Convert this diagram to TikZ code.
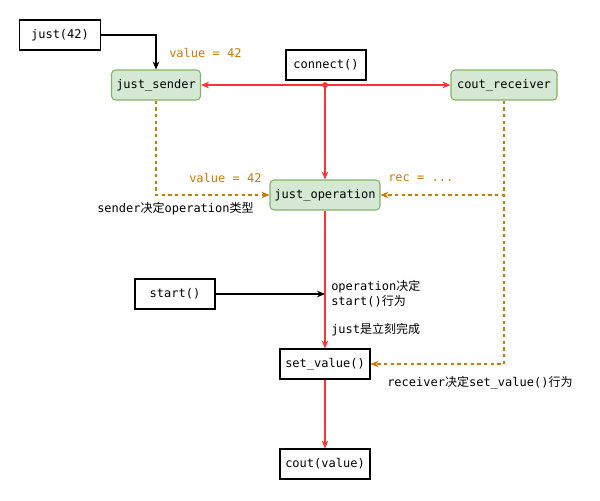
\documentclass[tikz,border=0pt]{standalone}
\usepackage{fontspec}
\setmainfont{DejaVu Sans Mono}
\newfontfamily\cjk{Noto Sans CJK SC}
\usetikzlibrary{arrows.meta}
\definecolor{gfill}{HTML}{D5E8D4}
\definecolor{gline}{HTML}{82B366}
\definecolor{rd}{HTML}{FF3333}
\definecolor{org}{HTML}{CC7A00}
\begin{document}
\begin{tikzpicture}[x=0.75pt,y=-0.75pt,font=\fontsize{9}{11}\selectfont,
  box/.style={draw=black,fill=white,minimum height=22.5pt,inner sep=0pt,line width=0.8pt},
  grn/.style={draw=gline,fill=gfill,rounded corners=3pt,minimum height=22.5pt,inner sep=0pt,line width=0.8pt},
  red/.style={draw=rd,line width=0.8pt,-{Stealth[length=6pt,width=5pt]}},
  blk/.style={draw=black,line width=0.8pt,-{Stealth[length=6pt,width=5pt]}},
  dsh/.style={draw=org,line width=0.8pt,dash pattern=on 2.5pt off 2.5pt,-{Stealth[length=6pt,width=5pt]}},
  lbl/.style={text=org,inner sep=0pt},
  txt/.style={inner sep=0pt,align=left}]
\useasboundingbox (0,0) rectangle (600,500);
\node[box,minimum width=60.75pt] (j42) at (60,35) {just(42)};
\node[grn,minimum width=66.75pt] (sender) at (156,85) {just\_sender};
\node[box,minimum width=60pt] (connect) at (326,65) {connect()};
\node[grn,minimum width=79.5pt] (receiver) at (504,85) {cout\_receiver};
\node[grn,minimum width=82.5pt] (op) at (325,195) {just\_operation};
\node[box,minimum width=60pt] (start) at (175,294) {start()};
\node[box,minimum width=67.5pt] (setv) at (325,364) {set\_value()};
\node[box,minimum width=67.5pt] (cout) at (325,464) {cout(value)};
\coordinate (dot) at (325,85);
\coordinate (hit) at (325,294);
\draw[blk] (j42.east) -| (sender.north);
\draw[red] (dot) -- (sender.east);
\draw[red] (dot) -- (receiver.west);
\draw[red] (dot) -- (op.north);
\fill[rd] (dot) circle (2.2pt);
\draw[red] (op.south) -- (setv.north);
\draw[red] (setv.south) -- (cout.north);
\draw[blk] (start.east) -- (hit);
\draw[dsh] (sender.south) |- (op.west);
\draw[dsh] (receiver.south) |- (op.east);
\draw[dsh] (receiver.south) |- (setv.east);
\node[lbl,anchor=west] (l1) at (169,53) {value = 42};
\node[lbl,anchor=west] (l2) at (189,178) {value = 42};
\node[lbl,anchor=west] (l3) at (388,178) {rec = ...};
\node[txt,anchor=west] (t1) at (97,209) {sender{\cjk 决定}operation{\cjk 类型}};
\node[txt,anchor=north west] (t2) at (331,280) {operation{\cjk 决定}\\start(){\cjk 行为}};
\node[txt,anchor=west] (t3) at (331,330) {just{\cjk 是立刻完成}};
\node[txt,anchor=west] (t4) at (387,383) {receiver{\cjk 决定}set\_value(){\cjk 行为}};
\end{tikzpicture}
\end{document}
